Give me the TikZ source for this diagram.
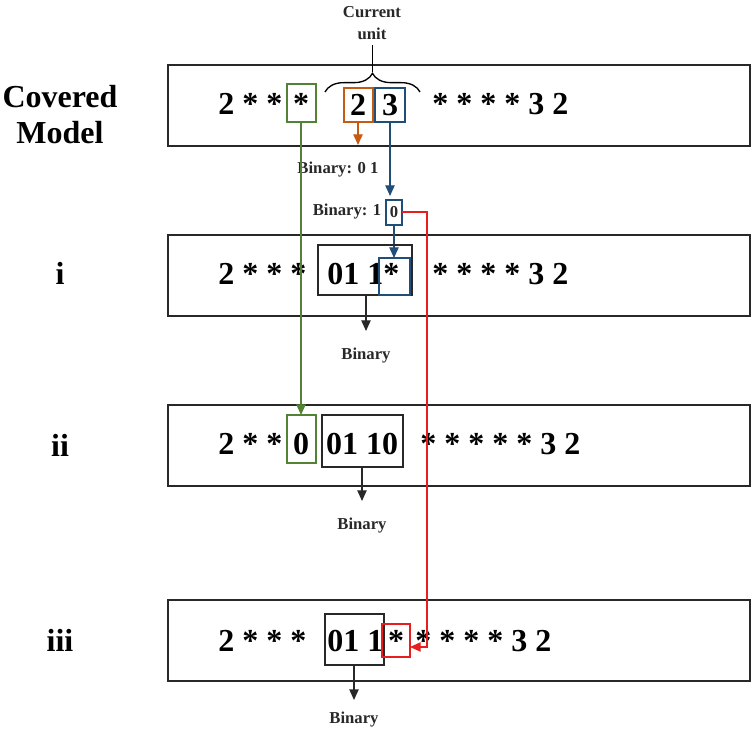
\documentclass[tikz,border=0pt]{standalone}
\usepackage{fontspec}
\setmainfont{Liberation Serif}
\usetikzlibrary{arrows.meta,decorations.pathreplacing}
\definecolor{gr}{RGB}{84,130,53}
\definecolor{orr}{RGB}{197,90,17}
\definecolor{bl}{RGB}{31,78,121}
\definecolor{rd}{RGB}{230,30,30}
\definecolor{dk}{RGB}{40,40,40}
\begin{document}
\begin{tikzpicture}[x=0.75pt,y=-0.75pt,
 row/.style={draw=dk,line width=1.2pt},
 big/.style={font=\fontsize{24}{24}\selectfont\bfseries,inner sep=0pt},
 lab/.style={font=\fontsize{24}{27}\selectfont\bfseries,align=center},
 sm/.style={font=\fontsize{12.5}{14}\selectfont\bfseries,text=dk,align=center},
 bx/.style={line width=2.2pt},
 arr/.style={-{Triangle[length=8pt,width=7pt]},line width=1pt}]
\useasboundingbox (0,0) rectangle (751,731);
% rows
\draw[row] (168,65) rectangle (750,146);
\draw[row] (168,235) rectangle (750,316);
\draw[row] (168,405) rectangle (750,486);
\draw[row] (168,600) rectangle (750,681);
% left labels
\node[lab] (cm) at (60,115) {Covered\\Model};
\node[lab] (li) at (60,273) {i};
\node[lab] (lii) at (60,445) {ii};
\node[lab] (liii) at (60,640) {iii};
% row 1
\node[big,anchor=west] (t1a) at (218,104) {2 * *};
\node[big] (t1s) at (301,104) {*};
\draw[gr,bx] (287,84) rectangle (316,122);
\coordinate (g1b) at (301,122);
\node[big] (t12) at (358,105) {2};
\node[big] (t13) at (390,105) {3};
\draw[orr,bx] (344,88) rectangle (373,122);
\draw[bl,bx] (375,88) rectangle (405,122);
\node[big,anchor=west] (t1b) at (432,104) {* * * * 3 2};
\draw[line width=1pt,decorate,decoration={brace,amplitude=14pt,aspect=0.5}] (325,92) -- (420,92);
\draw[line width=1pt] (372.5,72) -- (372.5,45);
\node[sm,font=\fontsize{12.5}{16}\selectfont\bfseries] (cu) at (372,23) {Current\\unit};
% binary texts
\node[sm] (b01) at (338,170) {Binary: 0 1};
\node[sm,anchor=east] (b10) at (386,212) {Binary: 1};
\node[sm,font=\fontsize{12.5}{13}\selectfont\bfseries] (b0) at (394,212) {0};
\draw[bl,bx] (386,200) rectangle (402,225);
\draw[orr,arr] (358,122) -- (358,145);
\draw[bl,arr] (390,122) -- (390,196);
\draw[bl,arr] (394,225) -- (394,258);
% row i
\node[big,anchor=west] (tia) at (218,274) {2 * * *};
\node[draw=dk,line width=1.2pt,minimum width=94*0.75pt,minimum height=50*0.75pt,inner sep=0pt] (ci) at (365,270) {};
\node[big,anchor=west] (tib) at (327,274) {01 1*};
\draw[bl,bx] (379,258) rectangle (410,295);
\node[big,anchor=west] (tic) at (432,274) {* * * * 3 2};
\draw[dk,arr] (366,295) -- (366,331);
\node[sm] (bi) at (366,356) {Binary};
% row ii
\node[big,anchor=west] (tiia) at (218,444) {2 * *};
\node[big] (tii0) at (301,444) {0};
\draw[gr,bx] (287,415) rectangle (316,463);
\node[draw=dk,line width=1.2pt,minimum width=81*0.75pt,minimum height=52*0.75pt,inner sep=0pt] (cii) at (362.5,441) {};
\node[big] (tiib) at (362,444) {01 10};
\node[big,anchor=west] (tiic) at (420,444) {* * * * * 3 2};
\draw[gr,arr] (g1b) -- (301,415);
\draw[dk,arr] (362,467) -- (362,501);
\node[sm] (bii) at (362,526) {Binary};
% row iii
\node[big,anchor=west] (tiiia) at (218,641) {2 * * *};
\node[draw=dk,line width=1.2pt,minimum width=59*0.75pt,minimum height=51*0.75pt,inner sep=0pt] (ciii) at (354.5,639.5) {};
\node[big,anchor=west] (tiiib) at (327,641) {01 1};
\node[big] (tiiis) at (396,641) {*};
\draw[rd,bx] (382,624) -- (382,657) -- (410,657) -- (410,624) -- cycle;
\coordinate (rt) at (410,647);
\node[big,anchor=west] (tiiic) at (415,641) {* * * * 3 2};
\draw[dk,arr] (354,665) -- (354,700);
\node[sm] (biii) at (354,720) {Binary};
% red connector
\draw[rd,arr] (402,212) -- (427,212) -- (427,647) -- (rt);
\end{tikzpicture}
\end{document}
